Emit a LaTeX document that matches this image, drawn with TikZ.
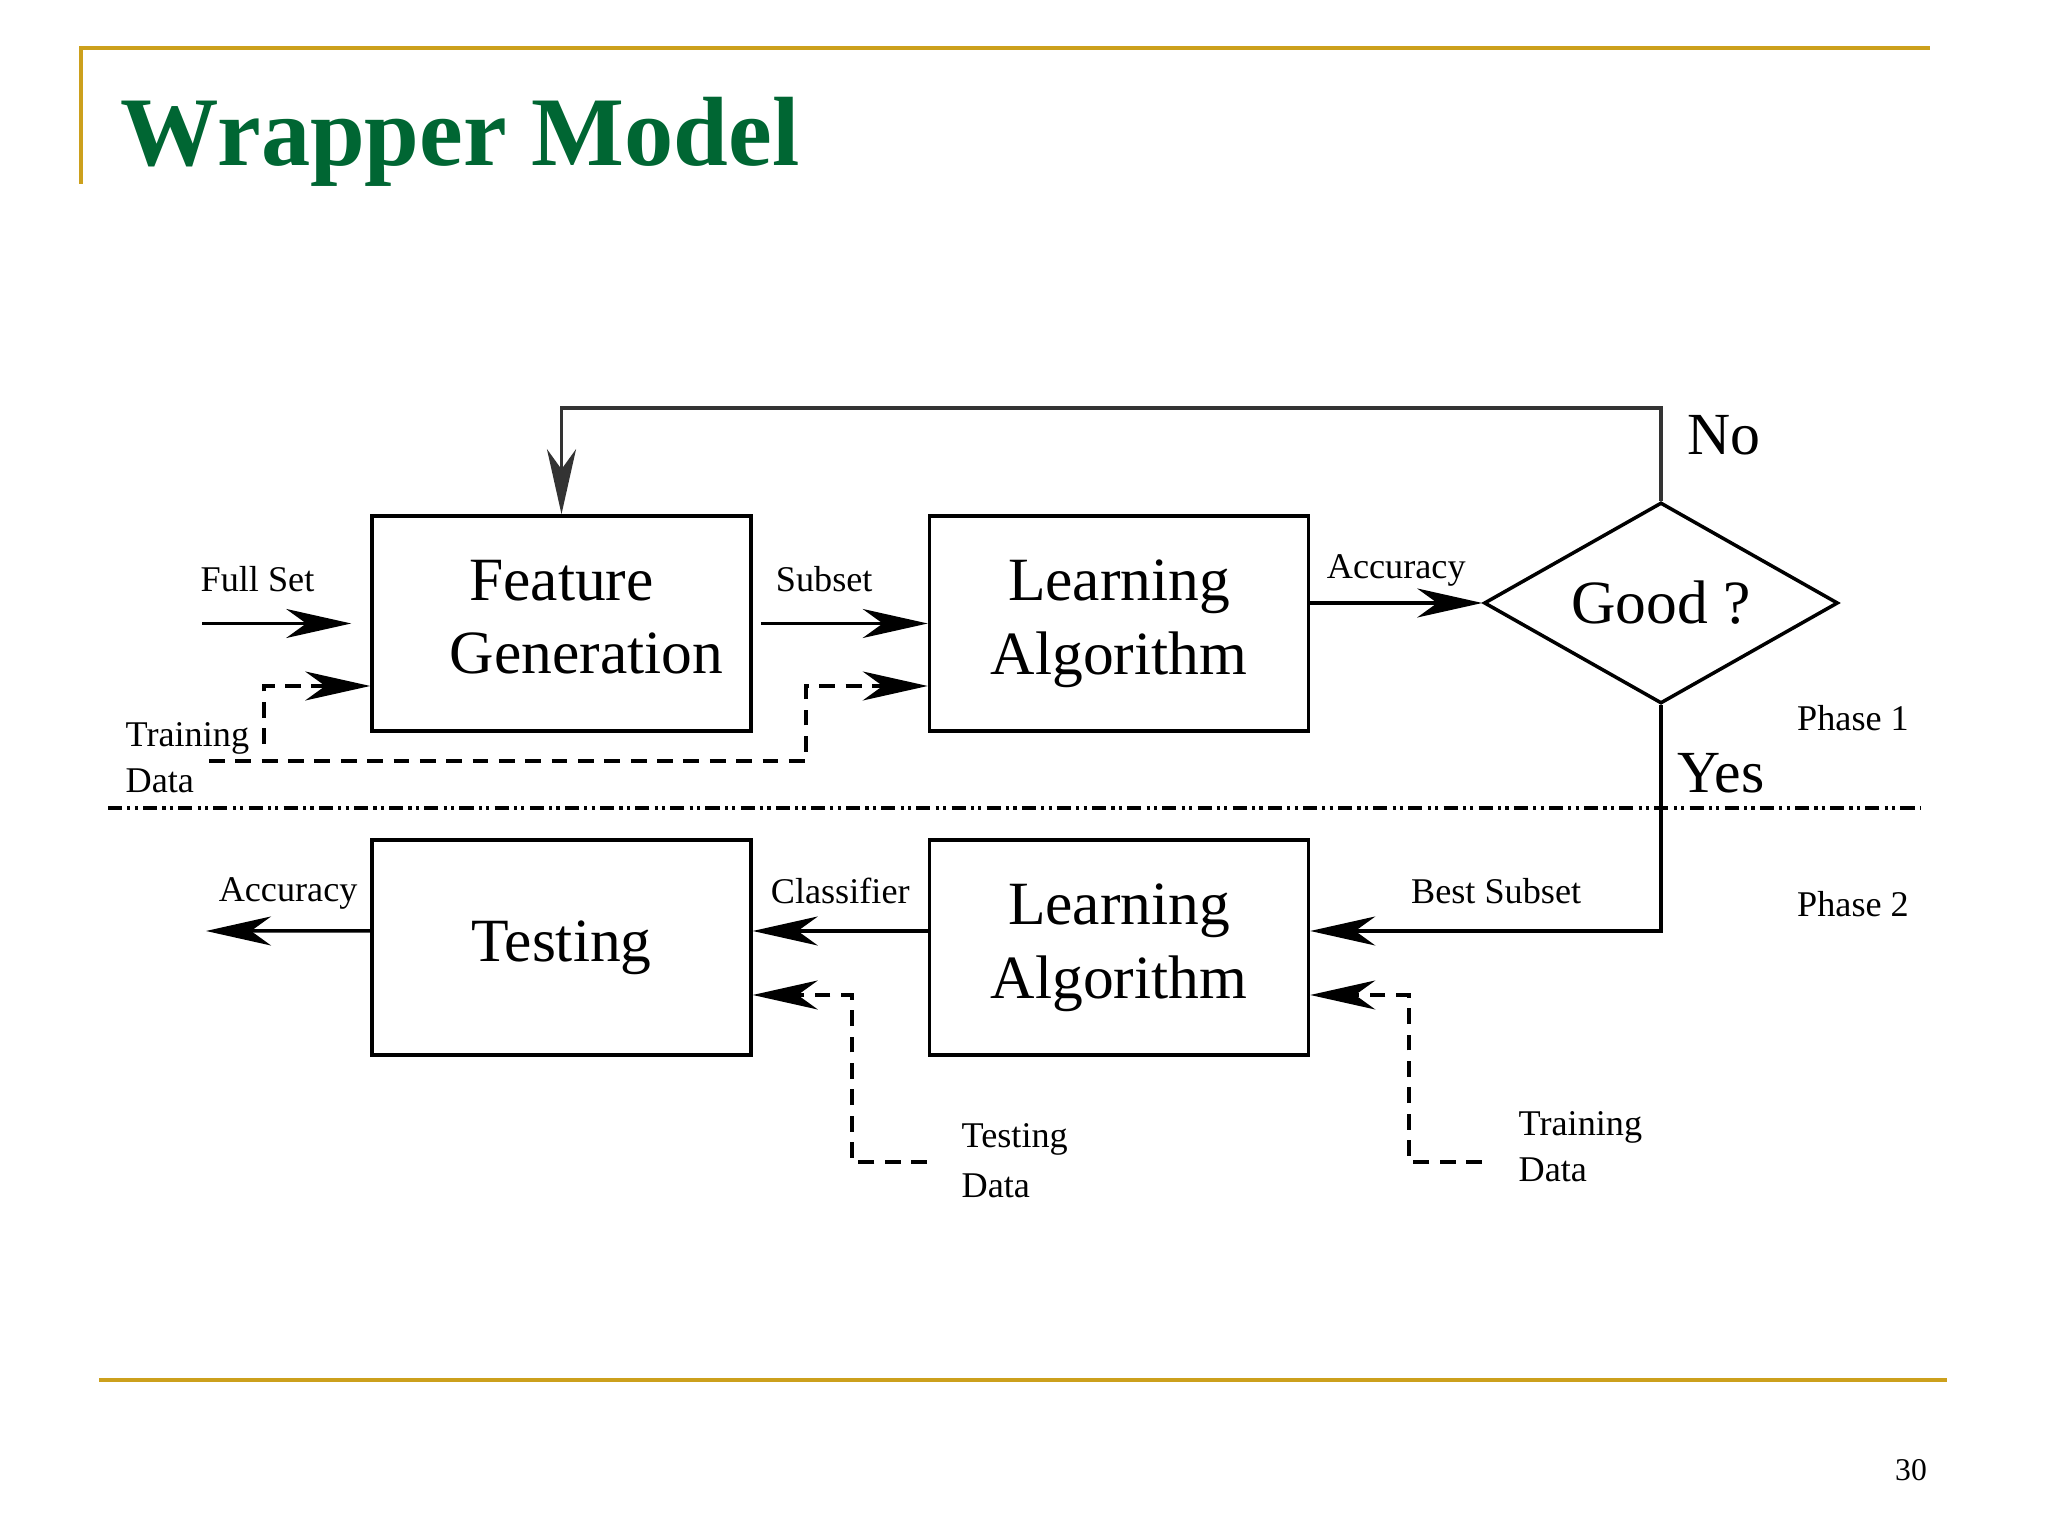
\documentclass[tikz,border=0pt]{standalone}
\usepackage{fontspec}
\setmainfont{Liberation Serif}
\usetikzlibrary{arrows.meta,shapes.geometric}

\definecolor{slidegold}{RGB}{204,160,28}
\definecolor{slidegreen}{RGB}{0,102,51}

\begin{document}
\begin{tikzpicture}[
    block/.style={draw, line width=1pt, minimum width=3.79cm, minimum height=2.15cm,
        inner sep=0pt, align=center, font=\fontsize{17.5}{21}\selectfont},
    decision/.style={diamond, draw, line width=1pt, aspect=1.76,
        minimum width=3.54cm, minimum height=2.01cm, inner sep=0pt,
        font=\fontsize{17.5}{21}\selectfont},
    flow/.style={line width=1pt, -{Stealth[length=6.5mm,width=2.9mm,inset=2mm]}},
    feed/.style={flow, dash pattern=on 4.5pt off 3pt},
    lbl/.style={font=\fontsize{10.3}{13}\selectfont, inner sep=0pt},
    big/.style={font=\fontsize{17}{20}\selectfont, inner sep=0pt},
    rule/.style={slidegold, line width=1.2pt},
    phase/.style={line width=0.9pt,
        dash pattern=on 4pt off 1.5pt on 0.9pt off 1.2pt on 0.9pt off 1.5pt},
    ]
    \useasboundingbox (0,0) rectangle (20.48,-15.34);

    % Slide frame and title
    \draw[rule] (0.81,-1.84) -- (0.81,-0.48) -- (19.30,-0.48);
    \draw[rule] (0.99,-13.80) -- (19.47,-13.80);
    \node[anchor=base west, inner sep=0pt, text=slidegreen,
          font=\fontsize{28}{32}\selectfont\bfseries] (title) at (1.20,-1.66) {Wrapper Model};
    \node[font=\fontsize{9}{11}\selectfont] (pagenum) at (19.11,-14.70) {30};

    % Blocks
    \node[block] (fg) at (5.615,-6.235) {Feature\\\hspace*{0.5cm}Generation\vphantom{g}};
    \node[block] (la1) at (11.19,-6.235) {Learning\\Algorithm};
    \node[decision] (good) at (16.61,-6.03) {Good ?};
    \node[block] (test) at (5.615,-9.475) {Testing};
    \node[block] (la2) at (11.19,-9.475) {Learning\\Algorithm};

    % Free ends
    \coordinate (fullin) at (2.02,-6.235);
    \coordinate (trainA) at (2.64,-7.44);
    \coordinate (trainB) at (2.09,-7.61);
    \coordinate (trainC) at (8.06,-7.61);
    \coordinate (accout) at (2.06,-9.31);
    \coordinate (testA) at (9.27,-11.62);
    \coordinate (testB) at (8.52,-11.62);
    \coordinate (trainD) at (14.82,-11.62);
    \coordinate (trainE) at (14.09,-11.62);

    % Phase 1
    \draw[flow, shorten >=0.19cm] (fullin) -- node[lbl, pos=0.33, above=0.3cm]{Full Set} (fg.west);
    \draw[flow] ([xshift=0.08cm]fg.east) -- node[lbl, pos=0.38, above=0.3cm]{Subset} (la1.west);
    \draw[flow] (la1.east |- good.west) -- node[lbl, above=0.15cm]{Accuracy} (good.west);
    \draw[flow, line width=1.1pt, black!80] (good.north) -- ++(0,0.93) -| (fg.north);
    \draw[feed] (trainA) |- ([yshift=-6.25mm]fg.west);
    \draw[feed] (trainB) -- (trainC) |- ([yshift=-6.25mm]la1.west);
    \node[lbl, anchor=west, align=left] (traintop) at (1.25,-7.58) {Training\\Data};
    \node[big] (no) at (17.24,-4.35) {No};
    \node[big] (yes) at (17.21,-7.73) {Yes};

    % Phase separator
    \draw[phase] (1.08,-8.08) -- (19.20,-8.08);
    \node[lbl] (ph1) at (18.53,-7.18) {Phase 1};
    \node[lbl] (ph2) at (18.53,-9.04) {Phase 2};

    % Phase 2
    \draw[flow] (good.south) |- node[lbl, pos=0.735, above=0.25cm]{Best Subset} ([yshift=1.65mm]la2.east);
    \draw[flow] ([yshift=1.65mm]la2.west) -- node[lbl, above=0.25cm]{Classifier} ([yshift=1.65mm]test.east);
    \draw[flow] ([yshift=1.65mm]test.west) -- node[lbl, above=0.2cm]{Accuracy} (accout);
    \draw[feed] (testA) -- (testB) |- ([yshift=-4.75mm]test.east);
    \draw[feed] (trainD) -- (trainE) |- ([yshift=-4.75mm]la2.east);
    \node[lbl, anchor=west, align=left, font=\fontsize{10.3}{14.2}\selectfont] (testdata) at (9.61,-11.61) {Testing\\Data};
    \node[lbl, anchor=west, align=left] (traindata) at (15.18,-11.465) {Training\\Data};
\end{tikzpicture}
\end{document}
